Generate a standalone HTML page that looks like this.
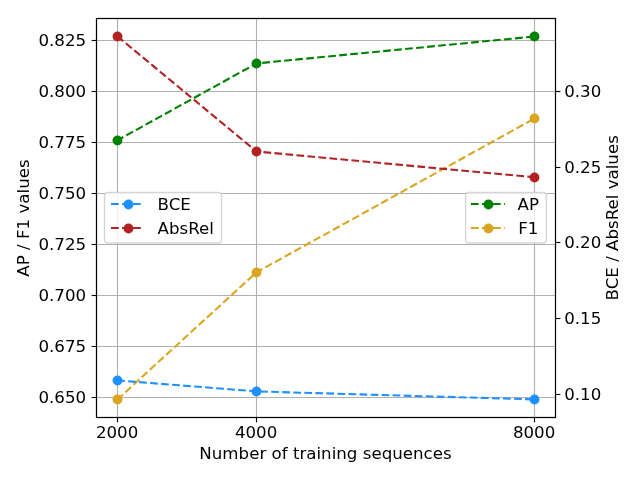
<!DOCTYPE html>
<html lang="en"><head><meta charset="utf-8"><title>Training sequences plot</title>
<style>
html,body{margin:0;padding:0;background:#ffffff;overflow:hidden}
svg{display:block}
text{font-family:"DejaVu Sans","Liberation Sans",sans-serif;font-size:16.667px;fill:#000000}
.g{stroke:#b0b0b0;stroke-width:1.111;fill:none}
.k{stroke:#000000;stroke-width:1.111;fill:none}
.d{fill:none;stroke-width:2.083;stroke-dasharray:7.708 3.333;stroke-linejoin:round}
</style></head>
<body>
<svg width="640" height="480" viewBox="0 0 640 480">
<rect width="640" height="480" fill="#ffffff"/>
<g class="g">
<line x1="117.5" y1="18.5" x2="117.5" y2="417.5"/>
<line x1="256.5" y1="18.5" x2="256.5" y2="417.5"/>
<line x1="534.5" y1="18.5" x2="534.5" y2="417.5"/>
<line x1="96.5" y1="40.5" x2="555.5" y2="40.5"/>
<line x1="96.5" y1="91.5" x2="555.5" y2="91.5"/>
<line x1="96.5" y1="142.5" x2="555.5" y2="142.5"/>
<line x1="96.5" y1="193.5" x2="555.5" y2="193.5"/>
<line x1="96.5" y1="244.5" x2="555.5" y2="244.5"/>
<line x1="96.5" y1="295.5" x2="555.5" y2="295.5"/>
<line x1="96.5" y1="346.5" x2="555.5" y2="346.5"/>
<line x1="96.5" y1="397.5" x2="555.5" y2="397.5"/>
</g>
<g class="k">
<line x1="117.5" y1="417.5" x2="117.5" y2="422.361"/>
<line x1="256.5" y1="417.5" x2="256.5" y2="422.361"/>
<line x1="534.5" y1="417.5" x2="534.5" y2="422.361"/>
<line x1="91.639" y1="40.5" x2="96.5" y2="40.5"/>
<line x1="91.639" y1="91.5" x2="96.5" y2="91.5"/>
<line x1="91.639" y1="142.5" x2="96.5" y2="142.5"/>
<line x1="91.639" y1="193.5" x2="96.5" y2="193.5"/>
<line x1="91.639" y1="244.5" x2="96.5" y2="244.5"/>
<line x1="91.639" y1="295.5" x2="96.5" y2="295.5"/>
<line x1="91.639" y1="346.5" x2="96.5" y2="346.5"/>
<line x1="91.639" y1="397.5" x2="96.5" y2="397.5"/>
<line x1="555.5" y1="91.5" x2="560.361" y2="91.5"/>
<line x1="555.5" y1="167.5" x2="560.361" y2="167.5"/>
<line x1="555.5" y1="242.5" x2="560.361" y2="242.5"/>
<line x1="555.5" y1="318.5" x2="560.361" y2="318.5"/>
<line x1="555.5" y1="394.5" x2="560.361" y2="394.5"/>
</g>
<polyline class="d" stroke="#008000" stroke-dashoffset="1.0" points="117.5,140.25 256.5,63.4 534.5,36.5"/>
<circle cx="117.5" cy="140.5" r="4.93" fill="#008000"/>
<circle cx="256.5" cy="63.5" r="4.93" fill="#008000"/>
<circle cx="534.5" cy="36.5" r="4.93" fill="#008000"/>
<polyline class="d" stroke="#daa520" stroke-dashoffset="0.3" points="117.5,399.4 256.5,272.25 534.5,118.5"/>
<circle cx="117.5" cy="399.5" r="4.93" fill="#daa520"/>
<circle cx="256.5" cy="272.5" r="4.93" fill="#daa520"/>
<circle cx="534.5" cy="118.5" r="4.93" fill="#daa520"/>
<rect class="k" x="96.5" y="18.5" width="459.0" height="399.0"/>
<rect x="465.6" y="192.5" width="80.69999999999993" height="50.5" rx="3.33" ry="3.33" fill="#ffffff" fill-opacity="0.8" stroke="#cccccc" stroke-opacity="0.8" stroke-width="1.389"/>
<line class="d" stroke="#008000" x1="470.95" y1="204.0" x2="504.9" y2="204.0"/>
<circle cx="488.45" cy="204.5" r="4.93" fill="#008000"/>
<text x="517.5" y="209.7">AP</text>
<line class="d" stroke="#daa520" x1="470.95" y1="228.0" x2="504.9" y2="228.0"/>
<circle cx="488.45" cy="228.5" r="4.93" fill="#daa520"/>
<text x="518.2" y="233.7">F1</text>
<polyline class="d" stroke="#1e90ff" stroke-dashoffset="0.4" points="117.5,380.4 256.5,391.4 534.5,399.4"/>
<circle cx="117.5" cy="380.5" r="4.93" fill="#1e90ff"/>
<circle cx="256.5" cy="391.5" r="4.93" fill="#1e90ff"/>
<circle cx="534.5" cy="399.5" r="4.93" fill="#1e90ff"/>
<polyline class="d" stroke="#b22222" stroke-dashoffset="0.25" points="117.5,36.4 256.5,151.5 534.5,177.25"/>
<circle cx="117.5" cy="36.5" r="4.93" fill="#b22222"/>
<circle cx="256.5" cy="151.5" r="4.93" fill="#b22222"/>
<circle cx="534.5" cy="177.5" r="4.93" fill="#b22222"/>
<rect class="k" x="96.5" y="18.5" width="459.0" height="399.0"/>
<rect x="104.5" y="192.4" width="117.0" height="50.599999999999994" rx="3.33" ry="3.33" fill="#ffffff" fill-opacity="0.8" stroke="#cccccc" stroke-opacity="0.8" stroke-width="1.389"/>
<line class="d" stroke="#1e90ff" x1="111.0" y1="204.0" x2="144.0" y2="204.0"/>
<circle cx="128.5" cy="204.5" r="4.93" fill="#1e90ff"/>
<text x="157.5" y="209.7">BCE</text>
<line class="d" stroke="#b22222" x1="111.0" y1="228.0" x2="144.0" y2="228.0"/>
<circle cx="128.5" cy="228.5" r="4.93" fill="#b22222"/>
<text x="157.5" y="233.7">AbsRel</text>
<g text-anchor="middle">
<text x="117.1" y="438">2000</text>
<text x="256.1" y="438">4000</text>
<text x="534.1" y="438">8000</text>
<text x="325.5" y="458.7">Number of training sequences</text>
<text transform="translate(29.4,218) rotate(-90)">AP / F1 values</text>
<text transform="translate(618,217.8) rotate(-90)">BCE / AbsRel values</text>
</g>
<g text-anchor="end">
<text x="86.1" y="46">0.825</text>
<text x="86.1" y="97">0.800</text>
<text x="86.1" y="148">0.775</text>
<text x="86.1" y="199">0.750</text>
<text x="86.1" y="250">0.725</text>
<text x="86.1" y="301">0.700</text>
<text x="86.1" y="352">0.675</text>
<text x="86.1" y="403">0.650</text>
</g>
<g>
<text x="564.2" y="97">0.30</text>
<text x="564.2" y="173">0.25</text>
<text x="564.2" y="248">0.20</text>
<text x="564.2" y="324">0.15</text>
<text x="564.2" y="400">0.10</text>
</g>
</svg>
</body></html>
